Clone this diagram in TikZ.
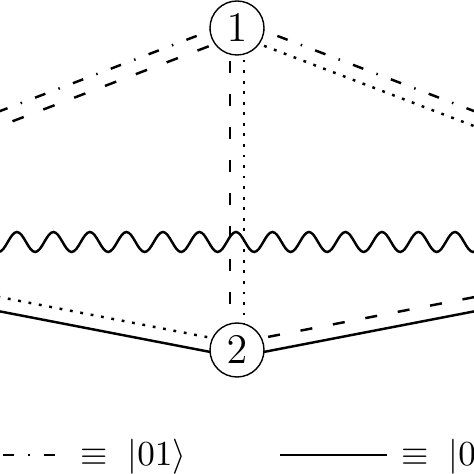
\documentclass[tikz,border=0pt]{standalone}
\usepackage{amsmath}
\usepackage{amssymb}
\usetikzlibrary{calc,backgrounds,decorations.pathmorphing}

\tikzset{
  level/.style={circle,draw,line width=0.4pt,fill=white,minimum size=0.54cm,inner sep=0pt,
    font=\fontsize{11.5}{13}\selectfont},
  link/.style={line width=0.7pt},
  dashdotted link/.style={link,dash pattern=on 0.11cm off 0.14cm on 0.015cm off 0.14cm},
  dashed link/.style={link,dash pattern=on 0.12cm off 0.21cm},
  dotted link/.style={link,dash pattern=on 0.8pt off 2.2pt},
  wavy link/.style={link,decorate,decoration={snake,amplitude=0.1cm,segment length=0.365cm}},
  key/.style={anchor=base west,inner sep=0pt}
}
\newcommand{\linkgap}{0.07cm}

\begin{document}
\begin{tikzpicture}
    \useasboundingbox (0,0) rectangle (4.74,4.74);
    \clip (0,0) rectangle (4.74,4.74);

    % Levels
    \node[level] (n1) at (2.37,4.46) {$1$};
    \node[level] (n2) at (2.37,1.24) {$2$};

    % Outer levels (outside the frame)
    \coordinate (L) at (-3.23,2.32);
    \coordinate (R) at (7.97,2.32);

    \begin{pgfonlayer}{background}
    % 1 to the left
    \draw[dashdotted link] ($(n1)!\linkgap!-90:(L)$) -- ($(L)!\linkgap!90:(n1)$);
    \draw[dashed link] ($(n1)!\linkgap!90:(L)$) -- ($(L)!\linkgap!-90:(n1)$);

    % 1 to the right
    \draw[dashdotted link] ($(n1)!\linkgap!90:(R)$) -- ($(R)!\linkgap!-90:(n1)$);
    \draw[dotted link] ($(n1)!\linkgap!-90:(R)$) -- ($(R)!\linkgap!90:(n1)$);

    % 1 to 2
    \draw[dashed link] ($(n1)!\linkgap!-90:(n2)$) -- ($(n2)!\linkgap!90:(n1)$);
    \draw[dotted link] ($(n1)!\linkgap!90:(n2)$) -- ($(n2)!\linkgap!-90:(n1)$);

    % 2 to the left
    \draw[dotted link] ($(n2)!\linkgap!-90:(L)$) -- ($(L)!\linkgap!90:(n2)$);
    \draw[link] ($(n2)!\linkgap!90:(L)$) -- ($(L)!\linkgap!-90:(n2)$);

    % 2 to the right
    \draw[dashed link] ($(n2)!\linkgap!90:(R)$) -- ($(R)!\linkgap!-90:(n2)$);
    \draw[link] ($(n2)!\linkgap!-90:(R)$) -- ($(R)!\linkgap!90:(n2)$);
    \end{pgfonlayer}

    % Coupling
    \draw[wavy link] (L) -- (R);

    % Legend
    \coordinate (k1a) at (0.03,0.19);
    \coordinate (k1b) at (0.57,0.19);
    \draw[dashdotted link] (k1a) -- (k1b);
    \node[key] (k1) at (0.80,0.09) {$\equiv\;|01\rangle$};

    \coordinate (k2a) at (2.80,0.19);
    \coordinate (k2b) at (3.87,0.19);
    \draw[link] (k2a) -- (k2b);
    \node[key] (k2) at (4.01,0.09) {$\equiv\;|00\rangle$};
\end{tikzpicture}
\end{document}
